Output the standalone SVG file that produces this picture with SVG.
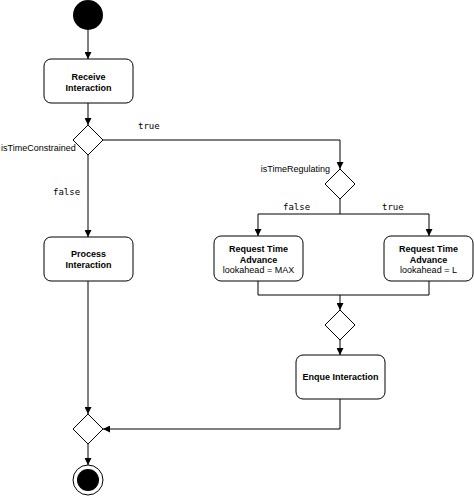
<svg xmlns="http://www.w3.org/2000/svg" width="474" height="496" viewBox="0 0 474 496">
<style>
.n{fill:#fff;stroke:#000;stroke-width:1}
.c{fill:none;stroke:#000;stroke-width:1}
.t{font-family:"Liberation Sans",Arial,sans-serif;font-size:9px;fill:#000}
.b{font-weight:bold;text-anchor:middle}
.m{font-family:"DejaVu Sans Mono","Liberation Mono",monospace;font-size:9px;fill:#000}
</style>
<defs>
<marker id="a" viewBox="0 0 10 10" refX="10" refY="5" markerWidth="7" markerHeight="7" markerUnits="userSpaceOnUse" orient="auto">
<path d="M0,0 L10,5 L0,10 Z" fill="#000"/>
</marker>
</defs>
<rect width="474" height="496" fill="#fff"/>
<g id="connectors">
<path class="c" d="M88,30 V59" marker-end="url(#a)"/>
<path class="c" d="M88,103 V125" marker-end="url(#a)"/>
<path class="c" d="M103,140 H340 V169" marker-end="url(#a)"/>
<path class="c" d="M88,155 V237" marker-end="url(#a)"/>
<path class="c" d="M340,199 V214 H258 V236" marker-end="url(#a)"/>
<path class="c" d="M340,214 H429 V236" marker-end="url(#a)"/>
<path class="c" d="M258,281 V295 H429 V281"/>
<path class="c" d="M340,295 V310" marker-end="url(#a)"/>
<path class="c" d="M340,340 V355" marker-end="url(#a)"/>
<path class="c" d="M340,399 V429 H103" marker-end="url(#a)"/>
<path class="c" d="M88,281 V414" marker-end="url(#a)"/>
<path class="c" d="M88,444 V465" marker-end="url(#a)"/>
<text class="m" x="138" y="129">true</text>
<text class="m" x="53" y="195">false</text>
<text class="m" x="283" y="210">false</text>
<text class="m" x="382" y="210">true</text>
</g>
<g id="start"><circle cx="88" cy="15" r="15" fill="#000"/></g>
<g id="receive">
<rect class="n" x="44" y="59" width="89" height="44" rx="7"/>
<text class="t b" x="88.5" y="80">Receive</text>
<text class="t b" x="88.5" y="91">Interaction</text>
</g>
<g id="dec1">
<path class="n" d="M88,125 L103,140 L88,155 L73,140 Z"/>
<text class="t" x="1" y="151">isTimeConstrained</text>
</g>
<g id="process">
<rect class="n" x="44" y="237" width="89" height="44" rx="7"/>
<text class="t b" x="88.5" y="257">Process</text>
<text class="t b" x="88.5" y="268">Interaction</text>
</g>
<g id="dec2">
<path class="n" d="M340,169 L355,184 L340,199 L325,184 Z"/>
<text class="t" x="330" y="172" text-anchor="end">isTimeRegulating</text>
</g>
<g id="rtaMax">
<rect class="n" x="214" y="236" width="89" height="45" rx="7"/>
<text class="t b" x="258.5" y="252">Request Time</text>
<text class="t b" x="258.5" y="262.5">Advance</text>
<text class="t" x="258.5" y="273" text-anchor="middle">lookahead = MAX</text>
</g>
<g id="rtaL">
<rect class="n" x="384" y="236" width="89" height="45" rx="7"/>
<text class="t b" x="428.5" y="252">Request Time</text>
<text class="t b" x="428.5" y="262.5">Advance</text>
<text class="t" x="428.5" y="273" text-anchor="middle">lookahead = L</text>
</g>
<g id="merge1"><path class="n" d="M340,310 L355,325 L340,340 L325,325 Z"/></g>
<g id="enque">
<rect class="n" x="296" y="355" width="89" height="44" rx="7"/>
<text class="t b" x="340.5" y="380">Enque Interaction</text>
</g>
<g id="merge2"><path class="n" d="M88,414 L103,429 L88,444 L73,429 Z"/></g>
<g id="end">
<circle cx="88" cy="480" r="15" fill="#fff" stroke="#000" stroke-width="1"/>
<circle cx="88" cy="480" r="11" fill="#000"/>
</g>
</svg>
